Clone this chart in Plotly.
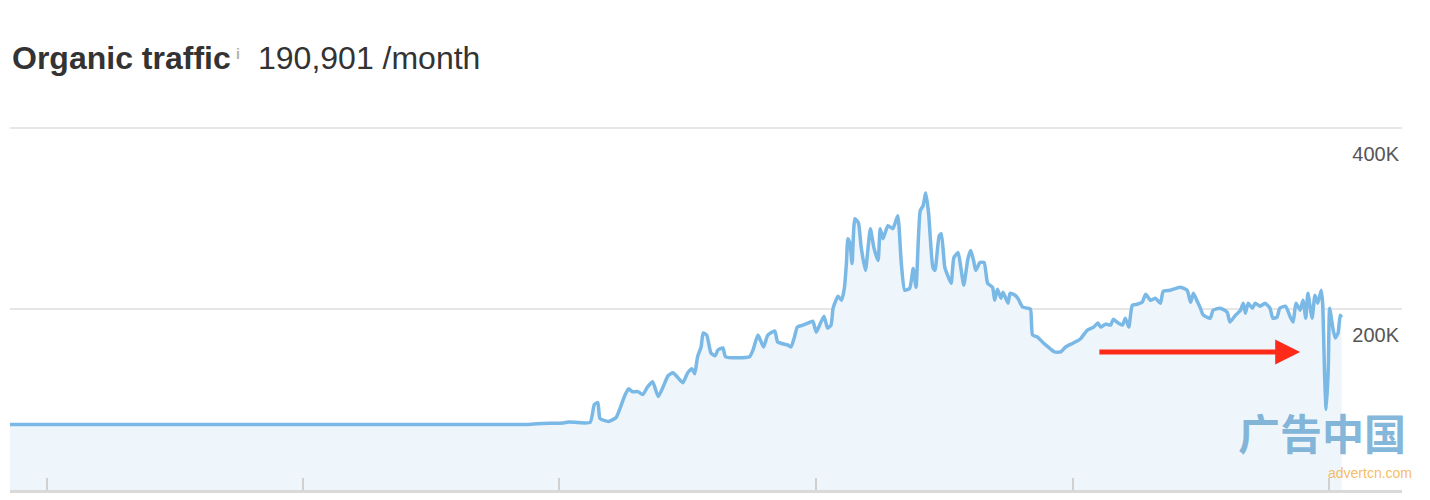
import plotly.graph_objects as go

# organic traffic history
dates = [
    "2013-11-10", "2015-11-17", "2015-12-08", "2016-01-07", "2016-01-14", "2016-02-14",
    "2016-02-20", "2016-02-25", "2016-02-28", "2016-03-11", "2016-03-22", "2016-03-28",
    "2016-04-04", "2016-04-09", "2016-04-14", "2016-04-22", "2016-04-29", "2016-05-06",
    "2016-05-13", "2016-05-21", "2016-05-28", "2016-06-04", "2016-06-11", "2016-06-18",
    "2016-06-25", "2016-07-02", "2016-07-08", "2016-07-12", "2016-07-16", "2016-07-21",
    "2016-07-24", "2016-07-29", "2016-08-04", "2016-08-10", "2016-08-14", "2016-08-21",
    "2016-08-25", "2016-09-28", "2016-10-03", "2016-10-10", "2016-10-18", "2016-10-24",
    "2016-11-03", "2016-11-07", "2016-11-21", "2016-11-26", "2016-12-01", "2016-12-05",
    "2016-12-13", "2016-12-20", "2016-12-27", "2017-01-01", "2017-01-07", "2017-01-12",
    "2017-01-17", "2017-01-22", "2017-01-25", "2017-02-01", "2017-02-06", "2017-02-10",
    "2017-02-13", "2017-02-15", "2017-02-18", "2017-02-21", "2017-02-25", "2017-03-02",
    "2017-03-06", "2017-03-12", "2017-03-19", "2017-03-24", "2017-03-30", "2017-04-02",
    "2017-04-06", "2017-04-13", "2017-04-20", "2017-04-27", "2017-05-02", "2017-05-07",
    "2017-05-14", "2017-05-19", "2017-05-23", "2017-05-29", "2017-06-02", "2017-06-06",
    "2017-06-10", "2017-06-16", "2017-06-19", "2017-06-25", "2017-06-28", "2017-07-03",
    "2017-07-07", "2017-07-12", "2017-07-16", "2017-07-22", "2017-07-26", "2017-07-30",
    "2017-08-05", "2017-08-09", "2017-08-13", "2017-08-16", "2017-08-22", "2017-08-28",
    "2017-09-02", "2017-09-09", "2017-09-12", "2017-09-16", "2017-09-21", "2017-09-24",
    "2017-10-01", "2017-10-04", "2017-10-11", "2017-10-15", "2017-10-22", "2017-10-29",
    "2017-11-02", "2017-11-05", "2017-11-12", "2017-11-19", "2017-11-27", "2017-12-06",
    "2017-12-15", "2017-12-22", "2018-01-02", "2018-01-12", "2018-01-22", "2018-01-31",
    "2018-02-06", "2018-02-10", "2018-02-17", "2018-02-24", "2018-02-28", "2018-03-07",
    "2018-03-13", "2018-03-17", "2018-03-22", "2018-03-27", "2018-04-03", "2018-04-10",
    "2018-04-15", "2018-04-22", "2018-04-29", "2018-05-06", "2018-05-10", "2018-05-20",
    "2018-06-03", "2018-06-13", "2018-06-18", "2018-06-22", "2018-06-28", "2018-07-02",
    "2018-07-06", "2018-07-16", "2018-07-20", "2018-07-30", "2018-08-09", "2018-08-13",
    "2018-08-21", "2018-08-28", "2018-09-01", "2018-09-04", "2018-09-08", "2018-09-14",
    "2018-09-18", "2018-09-25", "2018-10-02", "2018-10-09", "2018-10-13", "2018-10-19",
    "2018-10-23", "2018-10-31", "2018-11-07", "2018-11-11", "2018-11-15", "2018-11-21",
    "2018-11-25", "2018-11-29", "2018-12-02", "2018-12-08", "2018-12-12", "2018-12-16",
    "2018-12-21", "2018-12-23", "2018-12-26", "2018-12-28", "2018-12-31", "2019-01-02",
    "2019-01-07", "2019-01-10", "2019-01-14", "2019-01-17", "2019-01-19",
]
traffic = [
    72500, 72500, 73600, 74200, 75300, 74700,
    94500, 96700, 79100, 75800, 80200, 91200,
    105500, 112100, 108800, 108800, 105500, 114300,
    119800, 103300, 114300, 126400, 129700, 124200,
    118700, 129700, 134100, 128600, 147300, 158200,
    173600, 171400, 151600, 148400, 154900, 157100,
    147300, 147300, 154900, 171400, 158200, 171400,
    175800, 163700, 160400, 158200, 169200, 180200,
    182400, 184600, 186800, 174700, 184600, 192300,
    179100, 182400, 201100, 214300, 209900, 223100,
    251600, 278000, 272500, 250500, 300000, 295600,
    268100, 242900, 289000, 268100, 253800, 289000,
    278000, 292300, 289000, 303300, 251600, 220900,
    223100, 245100, 224200, 308800, 314300, 328600,
    305500, 246200, 242900, 281300, 283500, 246200,
    237400, 228600, 257100, 262600, 245100, 226400,
    256000, 264800, 253800, 242900, 251600, 251600,
    228600, 224200, 209900, 222000, 212100, 218700,
    206600, 217600, 215400, 212100, 202200, 201100,
    200000, 171400, 169200, 163700, 158200, 152700,
    152700, 158200, 162600, 167000, 176900, 180200,
    184600, 180200, 183500, 182400, 189000, 184600,
    182400, 190100, 180200, 204400, 205500, 207700,
    216500, 209900, 212100, 206600, 219800, 220900,
    224200, 220900, 207700, 217600, 207700, 201100,
    193400, 190100, 198900, 201100, 196700, 185700,
    193400, 198900, 206600, 195600, 206600, 201100,
    206600, 203300, 206600, 201100, 190100, 191200,
    201100, 203300, 191200, 185700, 206600, 198900,
    209900, 190100, 217600, 190100, 215400, 206600,
    220900, 206600, 122000, 89000, 133000, 201100,
    176900, 168100, 173600, 193400, 190901,
]

year_ticks = ["2014-01-01", "2015-01-01", "2016-01-01", "2017-01-01", "2018-01-01", "2019-01-01"]
y_ticks = [200000, 400000]
y_labels = ["200K", "400K"]

# red arrow drawn over the chart
arrow_start = ("2018-02-06", 152700)
arrow_end = ("2018-11-21", 152700)

fig = go.Figure()
fig.add_trace(go.Scatter(
    x=dates, y=traffic, mode="lines",
    line=dict(color="#7ab8e6", width=3.5, shape="spline", smoothing=0.5),
    fill="tozeroy", fillcolor="#eff6fb",
    hoverinfo="skip",
))

fig.add_annotation(
    x=arrow_end[0], y=arrow_end[1], ax=arrow_start[0], ay=arrow_start[1],
    xref="x", yref="y", axref="x", ayref="y",
    text="", showarrow=True, arrowhead=2, arrowsize=1, arrowwidth=5,
    arrowcolor="#ff2a1a",
)

# header
fig.add_annotation(
    x=0, y=1.19, xref="paper", yref="paper", xanchor="left", yanchor="middle",
    text="<b>Organic traffic</b>", showarrow=False,
    font=dict(family="Liberation Sans, Arial", size=32, color="#333333"),
)
fig.add_annotation(
    x=0.161, y=1.2, xref="paper", yref="paper", xanchor="left", yanchor="middle",
    text="<b>i</b>", showarrow=False,
    font=dict(family="Liberation Sans, Arial", size=14, color="#b0b0b0"),
)
fig.add_annotation(
    x=0.177, y=1.19, xref="paper", yref="paper", xanchor="left", yanchor="middle",
    text="190,901 /month", showarrow=False,
    font=dict(family="Liberation Sans, Arial", size=32, color="#333333"),
)

# watermark
fig.add_annotation(
    x=0.9425, y=0.16, xref="paper", yref="paper", xanchor="center", yanchor="middle",
    text="<b>广告中国</b>", showarrow=False,
    font=dict(family="Noto Sans CJK SC", size=42, color="rgba(110,170,210,0.85)"),
)
fig.add_annotation(
    x=0.977, y=0.047, xref="paper", yref="paper", xanchor="center", yanchor="middle",
    text="advertcn.com", showarrow=False,
    font=dict(family="Liberation Sans Narrow, Liberation Sans", size=14, color="rgba(245,180,80,0.9)"),
)

# page body has an 8px margin, so the figure is sized to land the plot where the reference has it
fig.update_layout(
    width=1422, height=492,
    margin=dict(l=2, r=28, t=119, b=10),
    paper_bgcolor="white", plot_bgcolor="white",
    showlegend=False,
    xaxis=dict(
        type="date", range=["2013-11-10", "2019-04-15"],
        tickvals=year_ticks, showticklabels=False,
        ticks="inside", ticklen=12, tickwidth=2, tickcolor="#d0d0d0",
        showgrid=False, zeroline=False,
        showline=True, linecolor="#d9d9d9", linewidth=3,
    ),
    yaxis=dict(
        range=[0, 401500], side="right",
        tickvals=y_ticks, ticktext=y_labels,
        ticklabelposition="inside", ticklabelshift=26,
        tickfont=dict(family="Liberation Sans, Arial", size=20, color="#555555"),
        showgrid=True, gridcolor="#e6e6e6", gridwidth=2,
        zeroline=False, showline=False, ticks="",
    ),
)

fig.write_html("out.html")
